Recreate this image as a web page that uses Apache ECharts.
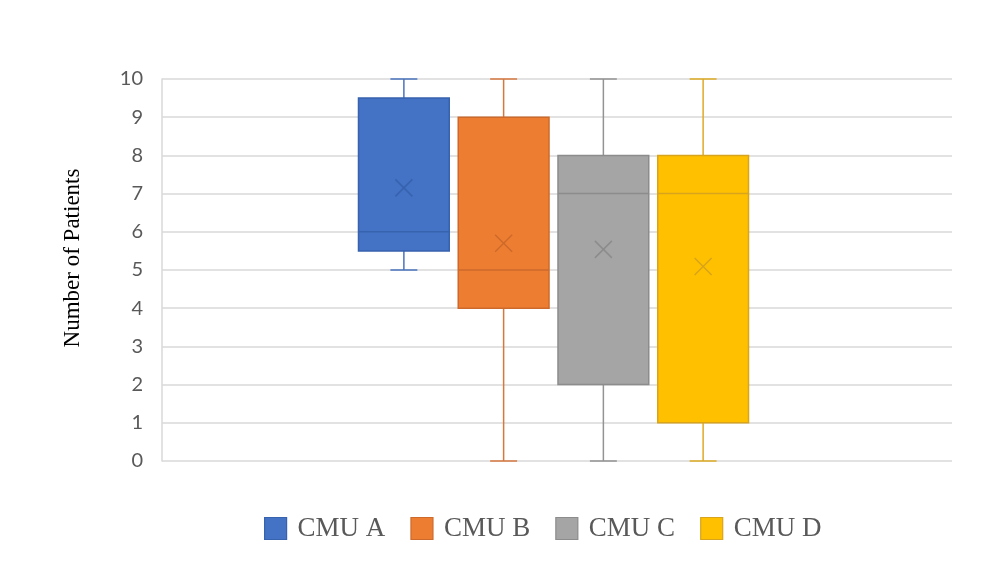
<!DOCTYPE html>
<html>
<head>
<meta charset="utf-8">
<script src="https://cdn.jsdelivr.net/npm/echarts@6/dist/echarts.min.js"></script>
<style>
html,body{margin:0;padding:0;background:#fff;}
#chart{width:986px;height:570px;}
</style>
</head>
<body>
<div id="chart"></div>
<script>
// ---- data ----
const categories = ['CMU A', 'CMU B', 'CMU C', 'CMU D'];
const minValues    = [5, 0, 0, 0];
const q1Values     = [5.5, 4, 2, 1];
const medianValues = [6, 5, 7, 7];
const q3Values     = [9.5, 9, 8, 8];
const maxValues    = [10, 10, 10, 10];
const meanValues   = [7.15, 5.7, 5.54, 5.09];
const yTicks = [0, 10, 1]; // min, max, interval

// ---- styles ----
const fillColors   = ['#4472C4', '#ED7D31', '#A5A5A5', '#FFC000'];
const borderColors = ['#3762AE', '#CD6A2B', '#8C8C8C', '#D8A41B'];
const lineColors   = ['#4A73BE', '#D7773F', '#939393', '#DDAB25'];

function renderBox(params, api) {
  const xi = api.value(0);
  const band = api.size([1, 0])[0];
  const cx = api.coord([xi, 0])[0];
  const bw = band * 0.91;
  const capW = band * 0.27;
  const y = d => api.coord([xi, api.value(d)])[1];
  const yMin = y(1), yQ1 = y(2), yMed = y(3), yQ3 = y(4), yMax = y(5), yMean = y(6);
  const s = params.seriesIndex;
  const lw = 1.5;
  const lineStyle = {stroke: lineColors[s], lineWidth: lw};
  const bStyle = {stroke: borderColors[s], lineWidth: lw};
  const xs = 8.5;
  return {
    type: 'group',
    children: [
      {type: 'line', shape: {x1: cx, y1: yMax, x2: cx, y2: yQ3}, style: lineStyle},
      {type: 'line', shape: {x1: cx, y1: yQ1, x2: cx, y2: yMin}, style: lineStyle},
      {type: 'line', shape: {x1: cx - capW / 2, y1: yMax, x2: cx + capW / 2, y2: yMax}, style: lineStyle},
      {type: 'line', shape: {x1: cx - capW / 2, y1: yMin, x2: cx + capW / 2, y2: yMin}, style: lineStyle},
      {type: 'rect', shape: {x: cx - bw / 2, y: yQ3, width: bw, height: yQ1 - yQ3},
        style: {fill: fillColors[s], stroke: borderColors[s], lineWidth: lw}},
      {type: 'line', shape: {x1: cx - bw / 2, y1: yMed, x2: cx + bw / 2, y2: yMed}, style: bStyle},
      {type: 'line', shape: {x1: cx - xs, y1: yMean - xs, x2: cx + xs, y2: yMean + xs}, style: bStyle},
      {type: 'line', shape: {x1: cx - xs, y1: yMean + xs, x2: cx + xs, y2: yMean - xs}, style: bStyle}
    ]
  };
}

const series = categories.map((name, i) => ({
  name: name,
  type: 'custom',
  xAxisIndex: 1,
  yAxisIndex: 1,
  renderItem: renderBox,
  encode: {x: 0, y: [1, 2, 3, 4, 5, 6]},
  itemStyle: {color: fillColors[i], borderColor: borderColors[i], borderWidth: 1},
  data: [[i, minValues[i], q1Values[i], medianValues[i], q3Values[i], maxValues[i], meanValues[i]]],
  z: 3
}));

const chart = echarts.init(document.getElementById('chart'), null, {renderer: 'canvas'});
chart.setOption({
  backgroundColor: '#ffffff',
  animation: false,
  legend: {
    left: 259,
    top: 510,
    icon: 'rect',
    itemWidth: 22,
    itemHeight: 22,
    itemGap: 25,
    data: categories.map((n, i) => ({
      name: n,
      itemStyle: {color: fillColors[i], borderColor: borderColors[i], borderWidth: 1.2}
    })),
    textStyle: {fontFamily: 'Liberation Serif', fontSize: 27, color: '#595959', padding: [0, 0, 0, 6]}
  },
  grid: [
    {left: 162, right: 34, top: 79, bottom: 109},
    {left: 354, width: 399, top: 79, bottom: 109}
  ],
  xAxis: [
    {gridIndex: 0, type: 'category', data: [''], axisLine: {show: false}, axisTick: {show: false}, axisLabel: {show: false}},
    {gridIndex: 1, type: 'category', data: categories, show: false}
  ],
  yAxis: [
    {
      gridIndex: 0, type: 'value', min: yTicks[0], max: yTicks[1], interval: yTicks[2],
      name: 'Number of Patients', nameLocation: 'middle', nameRotate: 90, nameGap: 78,
      nameTextStyle: {fontFamily: 'Liberation Serif', fontSize: 23, color: '#000000', padding: [0, 0, 0, 24]},
      axisLine: {show: true, lineStyle: {color: '#D9D9D9', width: 1.5}},
      axisTick: {show: false},
      axisLabel: {fontFamily: 'Lato', fontSize: 20, color: '#595959', margin: 19},
      splitLine: {lineStyle: {color: '#D9D9D9', width: 1.5}}
    },
    {gridIndex: 1, type: 'value', min: yTicks[0], max: yTicks[1], interval: yTicks[2], show: false, splitLine: {show: false}}
  ],
  series: series
});
</script>
</body>
</html>
